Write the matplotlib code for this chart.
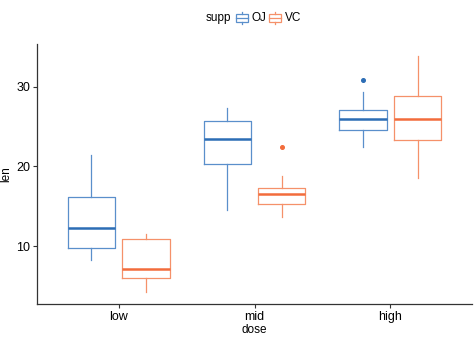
import matplotlib
matplotlib.use("Agg")
import matplotlib.pyplot as plt
from matplotlib.patches import Rectangle
from matplotlib.lines import Line2D
import numpy as np

plt.rcParams['font.family'] = ['Liberation Sans', 'DejaVu Sans']

doses = ["low", "mid", "high"]
supps = ["OJ", "VC"]
colors = {"OJ": "#2C6DB5", "VC": "#F26C3C"}
light = {"OJ": "#5A8FCB", "VC": "#F5916A"}

oj_low = [15.2, 21.5, 17.6, 9.7, 14.5, 10.0, 8.2, 9.4, 16.5, 9.7]
oj_mid = [19.7, 23.3, 23.6, 26.4, 20.0, 25.2, 25.8, 21.2, 14.5, 27.3]
oj_high = [25.5, 26.4, 22.4, 24.5, 24.8, 30.9, 26.4, 27.3, 29.4, 23.0]
vc_low = [4.2, 11.5, 7.3, 5.8, 6.4, 10.0, 11.2, 11.2, 5.2, 7.0]
vc_mid = [16.5, 16.5, 15.2, 17.3, 22.5, 17.3, 13.6, 14.5, 18.8, 15.5]
vc_high = [23.6, 18.5, 33.9, 25.5, 26.4, 32.5, 26.7, 21.5, 23.3, 29.5]

data = {"OJ": [oj_low, oj_mid, oj_high], "VC": [vc_low, vc_mid, vc_high]}

W, H = 474, 338
fig = plt.figure(figsize=(W / 100, H / 100), dpi=100)
ax = fig.add_axes([37 / W, (H - 304) / H, (472 - 37) / W, (304 - 44) / H])

offsets = {"OJ": -0.2, "VC": 0.2}
for s in supps:
    c = colors[s]
    lc = light[s]
    pos = [i + 1 + offsets[s] for i in range(len(doses))]
    ax.boxplot(data[s], positions=pos, widths=0.35, whis=1.5,
               boxprops=dict(color=lc, linewidth=0.9),
               whiskerprops=dict(color=lc, linewidth=0.9),
               capprops=dict(linewidth=0),
               medianprops=dict(color=c, linewidth=1.8),
               flierprops=dict(marker='o', markerfacecolor=c, markeredgecolor=c,
                               markersize=2.6),
               showcaps=False, manage_ticks=False)

ax.set_xlim(0.4, 3.6)
ax.set_ylim(2.715, 35.385)
ax.set_xticks([1, 2, 3])
ax.set_xticklabels(doses)
ax.set_yticks([10, 20, 30])
ax.tick_params(axis='both', direction='out', length=3, width=0.8, colors='#333333',
               labelsize=9, labelcolor='black', pad=2)
for sp in ['top', 'right']:
    ax.spines[sp].set_visible(False)
for sp in ['left', 'bottom']:
    ax.spines[sp].set_color('#333333')
    ax.spines[sp].set_linewidth(0.9)
ax.set_xlabel("dose", fontsize=8.5, labelpad=1)
ax.set_ylabel("len", fontsize=8.5, labelpad=3)

# legend overlay
ov = fig.add_axes([0, 0, 1, 1])
ov.set_xlim(0, W)
ov.set_ylim(H, 0)
ov.axis('off')
ov.text(206, 18, "supp", fontsize=8.5, va='center', ha='left')
labels_x = {"OJ": (236, 252), "VC": (269, 285)}
for s in supps:
    c = light[s]
    x0, tx = labels_x[s]
    ov.add_patch(Rectangle((x0, 14), 12, 8, fill=False, edgecolor=c, linewidth=0.9))
    ov.add_line(Line2D([x0, x0 + 12], [18, 18], color=c, linewidth=0.9))
    ov.add_line(Line2D([x0 + 6, x0 + 6], [12, 14], color=c, linewidth=0.9))
    ov.add_line(Line2D([x0 + 6, x0 + 6], [22, 24], color=c, linewidth=0.9))
    ov.text(tx, 18, s, fontsize=8.5, va='center', ha='left')

fig.savefig("out.png", dpi=100)
